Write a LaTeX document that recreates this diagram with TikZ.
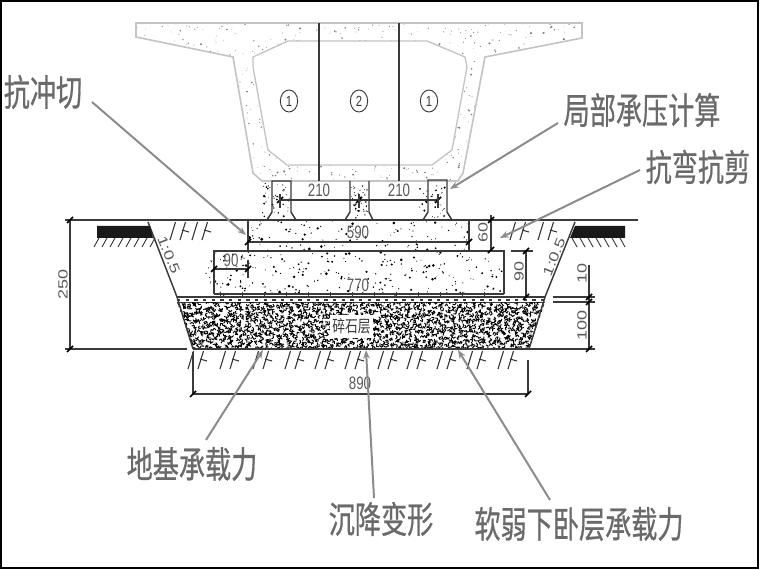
\documentclass[tikz,border=0pt]{standalone}
\usepackage{graphicx}
\usepackage{fontspec}
\setmainfont{Liberation Sans}
\newfontfamily\cjk[FakeBold=0.7]{Noto Sans CJK SC}
\newfontfamily\cjkplain{Noto Sans CJK SC}
\usetikzlibrary{shapes.geometric,arrows.meta,calc}
\definecolor{ink}{HTML}{3A3A3A}
\definecolor{deckline}{HTML}{C4C4C4}
\definecolor{callgray}{HTML}{8C8C8C}
\definecolor{labgray}{HTML}{6A6A6A}
\definecolor{dimgray}{HTML}{5A5A5A}
\newcommand\dtxt[1]{\scalebox{1}[1.35]{\fontsize{10}{10}\selectfont #1}}
\newcommand\dtxr[1]{\scalebox{1.35}[1]{\fontsize{10}{10}\selectfont #1}}
\newcommand\cjklab[1]{\scalebox{1}[1.4]{\cjk\fontsize{19.6}{20}\selectfont #1}}
% random dots in a box: count, xmin, xmax, ymin, ymax, colour, radius
\newcommand\specks[7]{%
  \foreach \ii in {1,...,#1}{%
    \pgfmathsetmacro\sx{#2+rnd*(#3-#2)}%
    \pgfmathsetmacro\sy{#4+rnd*(#5-#4)}%
    \pgfmathsetmacro\sr{#7*(0.6+rnd*rnd*1.6)}%
    \fill[#6] (\sx,\sy) circle[radius=\sr];
  }}
% ground mark: two slashes and a barb
\newcommand\gmark[2]{%
  \draw[ink,line width=0.85pt] (#1,#2+18) -- (#1+5.5,#2);
  \draw[ink,line width=0.85pt] (#1+10,#2+18) -- (#1+15.5,#2);
  \draw[ink,line width=0.8pt] (#1+12,#2+8) -- (#1+19,#2+10);
}
\newcommand\dtick[2]{\draw[black,line width=1.3pt] (#1-3,#2+3) -- (#1+3,#2-3);}
\tikzset{
  dimline/.style={ink,line width=0.9pt},
  heavy/.style={ink,line width=1.1pt},
  thinhatch/.style={ink,line width=0.7pt},
  dimtext/.style={dimgray,inner sep=0pt},
  lab/.style={labgray,inner sep=0pt},
  callout/.style={callgray,line width=1.5pt,-{Stealth[length=6.5pt,width=5pt]}},
}
\begin{document}
\begin{tikzpicture}[x=0.75pt,y=-0.75pt]
\useasboundingbox (0,0) rectangle (760,570);
\fill[white] (0,0) rectangle (760,570);
\draw[black,line width=1.5pt] (1,1) rectangle (758,568);
\pgfmathsetseed{4217}
% ---------- box girder
\begin{scope}
  \clip (136,23) -- (582,23) -- (582,38) -- (485,57) -- (463,173) -- (458,181) -- (262,181) -- (253,173) -- (233,57) -- (136,37) -- cycle;
  \specks{1100}{136}{582}{23}{181}{black!50}{0.6}
\end{scope}
\draw[deckline,fill=white,line width=1.0pt] (288,41) -- (427,41) -- (465,57) -- (467,67) -- (452,150) -- (432,165) -- (287,165) -- (268,150) -- (253,67) -- (253,57) -- cycle;
\draw[deckline,line width=1.2pt] (136,23) -- (582,23) -- (582,38) -- (485,57) -- (463,173) -- (458,181) -- (262,181) -- (253,173) -- (233,57) -- (136,37) -- cycle;
\draw[ink,line width=1.1pt] (319,23) -- (319,181);
\draw[ink,line width=1.1pt] (399,23) -- (399,181);
\foreach \nm/\px/\dg in {c1/289/1,c2/359/2,c3/429/1}{
  \node[ellipse,draw=ink,line width=0.7pt,inner sep=0pt,minimum width=13pt,minimum height=16.5pt,text=ink] (\nm) at (\px,101) {\scalebox{1}[1.3]{\fontsize{8.5}{9}\selectfont \dg}};
}
% ---------- piers
\begin{scope}
  \specks{16}{262}{270}{182}{218}{black}{0.7}
  \specks{26}{272}{290}{184}{218}{black}{0.6}
  \specks{40}{351}{368}{184}{218}{black}{0.6}
  \specks{12}{418}{427}{186}{218}{black}{0.7}
  \specks{24}{429}{446}{184}{218}{black}{0.6}
\end{scope}
\draw[heavy] (267,220) -- (272,212) -- (272,181) -- (291,181) -- (291,212) -- (296,220);
\draw[heavy] (345,220) -- (350,212) -- (350,181) (369,181) -- (369,212) -- (373,220);
\draw[heavy] (423,220) -- (428,212) -- (428,180) -- (447,180) -- (447,212) -- (452,220);
% 210 dimensions
\draw[dimline,line width=1.1pt] (280,200) -- (438,200);
\dtick{280}{200}\dtick{359}{200}\dtick{438}{200}
\draw[dimline] (280,194) -- (280,208) (359,194) -- (359,208) (438,194) -- (438,208);
\node[dimtext] (d210a) at (319,190) {\dtxt{210}};
\node[dimtext] (d210b) at (399,190) {\dtxt{210}};
% ---------- foundations
\begin{scope}
  \clip (248,220) rectangle (469,250);
  \specks{105}{248}{469}{220}{250}{black}{0.8}
\end{scope}
\begin{scope}
  \clip (214,251) rectangle (504,295);
  \specks{230}{214}{504}{251}{295}{black}{0.8}
\end{scope}
\specks{8}{205}{213}{255}{294}{black}{0.6}
\draw[heavy] (65,220) -- (638,220);
\draw[heavy] (248,220) -- (248,250);
\draw[heavy] (469,220) -- (469,250);
\draw[dimline] (248,242) -- (469,242);
\dtick{248}{242}\dtick{469}{242}
\draw[heavy] (214,294) -- (214,251) -- (504,251) -- (504,294);
\draw[heavy] (214,294) -- (504,294);
\node[dimtext] (d590) at (358,232) {\dtxt{590}};
\node[dimtext] (d770) at (358,285) {\dtxt{770}};
% left 90
\draw[dimline] (214,269) -- (248,269);
\draw[dimline] (248,260) -- (248,278);
\dtick{214}{269}\dtick{248}{269}
\node[dimtext] (d90a) at (231,260) {\dtxt{90}};
% ---------- base layer
\draw[heavy] (177,297) -- (545,297);
\draw[ink,line width=0.9pt,dash pattern=on 2.5pt off 4pt] (177,300) -- (545,300);
\draw[ink,line width=0.6pt] (177,302) -- (545,302);
\foreach \tx in {220,242,...,505}{\draw[thinhatch] (\tx,292) -- (\tx,297);}
% ---------- gravel
\begin{scope}
  \clip (177,302) -- (545,302) -- (529,349) -- (193,349) -- cycle;
  \foreach \gx in {177,180.5,...,545}{
    \foreach \gy in {302,305,...,350}{
      \pgfmathsetmacro\ax{\gx+rnd*3}
      \pgfmathsetmacro\ay{\gy+rnd*3}
      \pgfmathsetmacro\ta{rnd*360}
      \pgfmathsetmacro\tb{\ta+60+rnd*60}
      \draw[black,line width=0.7pt,line join=round] (\ax,\ay) -- ++(\ta:2.4) -- ++(\tb:2.4);
    }
  }
\end{scope}
\node[fill=white,inner sep=0pt,minimum width=32pt,minimum height=17pt] (grv) at (351.5,326.5) {\scalebox{1}[1.3]{\cjkplain\fontsize{9.6}{10}\selectfont\color{ink} 碎石层}};
% ---------- sides of the pit
\draw[heavy] (148,222) -- (177,297) -- (193,349);
\draw[heavy] (575,222) -- (545,297) -- (529,349);
\draw[heavy] (65,349) -- (187,349);
\draw[heavy] (193,349) -- (595,349);
% black blocks
\fill[black!90] (97,226) -- (150,226) -- (153,238) -- (97,238) -- cycle;
\fill[black!90] (570,238) -- (575,226) -- (625,226) -- (625,238) -- cycle;
\foreach \hx in {94,102,...,150}{\draw[thinhatch] (\hx,247) -- (\hx+5,238);}
\foreach \hx in {572,580,...,622}{\draw[thinhatch] (\hx,238) -- (\hx+5,247);}
% ground marks
\gmark{170}{222}\gmark{192}{222}\gmark{510}{222}\gmark{538}{222}
\foreach \mx in {188,220,253,285,315,345,378,407,437,467,498}{\gmark{\mx}{351}}
% ---------- dimensions
\draw[dimline] (70,220) -- (70,349);
\dtick{70}{220}\dtick{70}{349}
\node[dimtext,rotate=90] (d250) at (63,284) {\dtxr{250}};
\draw[dimline] (193,352) -- (193,394);
\draw[dimline] (528,360) -- (528,394);
\draw[dimline] (193,394) -- (528,394);
\dtick{193}{394}\dtick{528}{394}
\node[dimtext] (d890) at (360,383) {\dtxt{890}};
\draw[dimline] (491,215) -- (491,252);
\dtick{491}{220}\dtick{491}{250}
\node[dimtext,rotate=90] (d60) at (483,232) {\dtxr{60}};
\draw[dimline] (511,251) -- (533,251);
\draw[dimline] (526,250) -- (526,297);
\dtick{526}{251}\dtick{526}{297}
\node[dimtext,rotate=90] (d90b) at (519,271) {\dtxr{90}};
\draw[dimline] (553,297) -- (595,297);
\draw[dimline] (553,302) -- (595,302);
\draw[dimline] (589,265) -- (589,349);
\dtick{589}{297}\dtick{589}{302}\dtick{589}{349}
\node[dimtext,rotate=90] (d10) at (582,273) {\dtxr{10}};
\node[dimtext,rotate=90] (d100) at (582,325) {\dtxr{100}};
\node[dimtext,rotate=-68] (slopeL) at (169,255) {\dtxr{1:0.5}};
\node[dimtext,rotate=68] (slopeR) at (554,257) {\dtxr{1:0.5}};
% ---------- callouts
\node[lab] (lc) at (43,92) {\cjklab{抗冲切}};
\node[lab] (lj) at (642,110) {\cjklab{局部承压计算}};
\node[lab] (lk) at (698,167) {\cjklab{抗弯抗剪}};
\node[lab] (ld) at (192,464) {\cjklab{地基承载力}};
\node[lab] (ls) at (381,519) {\cjklab{沉降变形}};
\node[lab] (lr) at (579,524) {\cjklab{软弱下卧层承载力}};
\coordinate (tc) at (246,235);
\coordinate (tj) at (450,189);
\coordinate (tk) at (500,238);
\coordinate (td) at (263,350);
\coordinate (ts) at (366,350);
\coordinate (tr) at (458,350);
\draw[callout] ([shift={(49,10)}]lc.center) -- (tc);
\draw[callout] ([shift={(-84,13)}]lj.center) -- (tj);
\draw[callout] ([shift={(-58,3)}]lk.center) -- (tk);
\draw[callout] ([shift={(14,-24)}]ld.center) -- (td);
\draw[callout] ([shift={(-7,-21)}]ls.center) -- (ts);
\draw[callout] ([shift={(-29,-24)}]lr.center) -- (tr);
\end{tikzpicture}
\end{document}
